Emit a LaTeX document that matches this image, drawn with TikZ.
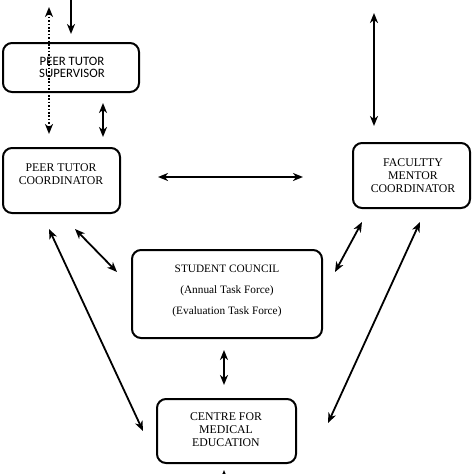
\documentclass[tikz,border=0pt]{standalone}
\usepackage{fontspec}
\setmainfont{Liberation Serif}
\newfontfamily\calibrifont{Carlito}
\usepackage{tikz}
\usetikzlibrary{arrows.meta, positioning}

\begin{document}
\begin{tikzpicture}[
    x=1pt, y=-1pt,
    >={Stealth[length=10pt, width=8pt, inset=3pt]},
    box/.style={rectangle, draw=black, line width=2pt, rounded corners=9pt, minimum width=#1},
    boxtext/.style={align=center, inner sep=0pt, font=\fontsize{11.8}{13.5}\selectfont},
    arrow/.style={<->, line width=1.8pt, draw=black},
    onearrow/.style={->, line width=1.8pt, draw=black},
    dotline/.style={arrow, dash pattern=on 1.7pt off 1.7pt, line width=2.2pt}
]
    \useasboundingbox (0,0) rectangle (474,474);

    % Peer tutor side
    \node[box=136pt, minimum height=49pt] (sup) at (71,67.5) {};
    \node[boxtext, font=\calibrifont\fontsize{12.8}{12}\selectfont] (suptxt) at (72,67) {PEER TUTOR\\SUPERVISOR};
    \node[box=117pt, minimum height=65pt] (ptc) at (61.5,180.5) {};
    \node[boxtext] (ptctxt) at (61,174) {PEER TUTOR\\COORDINATOR};

    % Faculty side
    \node[box=117pt, minimum height=65pt] (fmc) at (411.5,175.5) {};
    \node[boxtext, font=\fontsize{11.8}{13}\selectfont] (fmctxt) at (413,176) {FACULTTY\\MENTOR\\COORDINATOR};

    % Student council and centre
    \node[box=190pt, minimum height=88pt] (sc) at (227,294) {};
    \node[boxtext, font=\fontsize{11.3}{21}\selectfont] (sctxt) at (227,291) {STUDENT COUNCIL\\(Annual Task Force)\\(Evaluation Task Force)};
    \node[box=139pt, minimum height=64pt] (cme) at (226.5,431) {};
    \node[boxtext, font=\fontsize{11.8}{13}\selectfont] (cmetxt) at (226,430) {CENTRE FOR\\MEDICAL\\EDUCATION};

    % Arrow ends
    \coordinate (topin) at (71,0);
    \coordinate (supin) at (71,34);
    \coordinate (dotA) at (49,7);
    \coordinate (dotB) at (49,134);
    \coordinate (supout) at (103,103);
    \coordinate (ptcin) at (103,137);
    \coordinate (ptcR) at (158,177);
    \coordinate (fmcL) at (303,177);
    \coordinate (fmctop) at (374,13);
    \coordinate (fmcin) at (374,126);
    \coordinate (ptcA) at (49,229);
    \coordinate (cmeL) at (143,431);
    \coordinate (ptcB) at (75,229);
    \coordinate (scL) at (117,272);
    \coordinate (fmcA) at (362,222);
    \coordinate (scR) at (335,272);
    \coordinate (fmcB) at (420,222);
    \coordinate (cmeR) at (328,423);
    \coordinate (scout) at (224,350);
    \coordinate (cmein) at (224,385);
    \coordinate (botin) at (224,479);
    \coordinate (cmeout) at (224,470);

    % Arrows
    \draw[onearrow] (topin) -- (supin);
    \draw[dotline] (dotA) -- (dotB);
    \draw[arrow] (supout) -- (ptcin);
    \draw[arrow] (ptcR) -- (fmcL);
    \draw[arrow] (fmctop) -- (fmcin);
    \draw[arrow] (ptcA) -- (cmeL);
    \draw[arrow] (ptcB) -- (scL);
    \draw[arrow] (fmcA) -- (scR);
    \draw[arrow] (fmcB) -- (cmeR);
    \draw[arrow] (scout) -- (cmein);
    \draw[onearrow] (botin) -- (cmeout);
\end{tikzpicture}
\end{document}
